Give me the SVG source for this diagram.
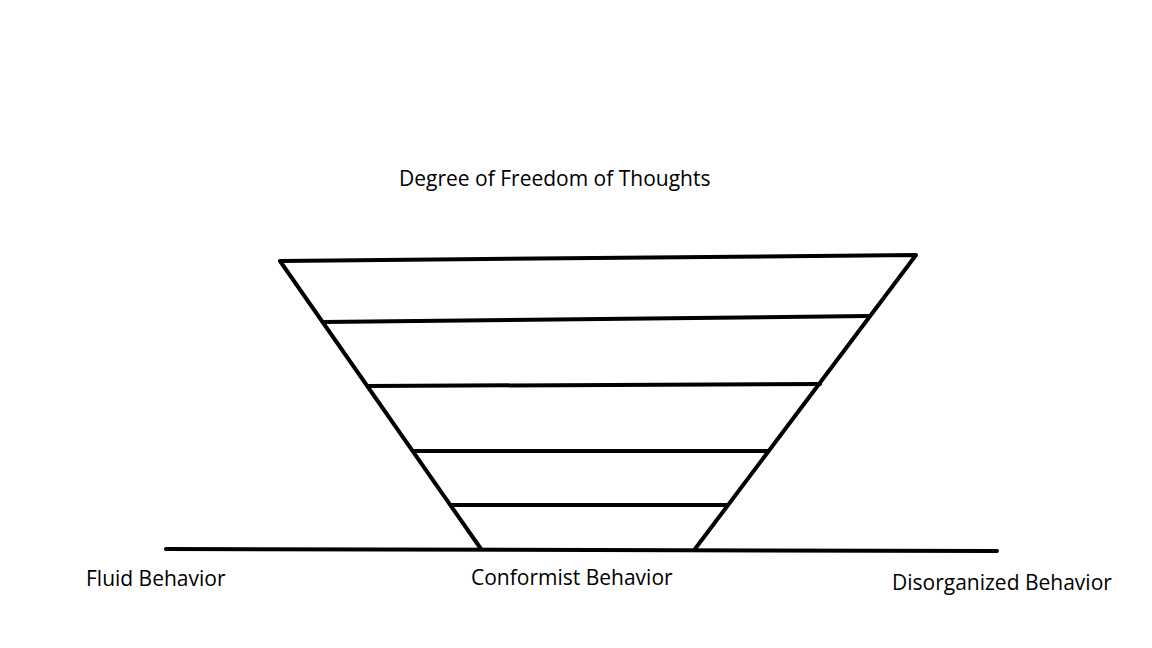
<svg xmlns="http://www.w3.org/2000/svg" width="1152" height="648" viewBox="0 0 1152 648">
<style>
.l{stroke:#000;stroke-width:4;fill:none;stroke-linecap:round;stroke-linejoin:round}
text{font-family:"Open Sans","Liberation Sans",sans-serif;font-size:21px;fill:#000}
</style>
<rect width="1152" height="648" fill="#fff"/>
<g id="funnel">
<path class="l" d="M280,261 L916,255 L695,549 M280,261 L481,549"/>
<path class="l" d="M323,322 L868,316 M368,386 L820,384 M413,451 L768,451 M452,505 L727,505"/>
</g>
<g id="connectors">
<path class="l" d="M166,549 L997,551"/>
</g>
<g id="labels">
<text x="399" y="186">Degree of Freedom of Thoughts</text>
<text x="86" y="586">Fluid Behavior</text>
<text x="471" y="585">Conformist Behavior</text>
<text x="892" y="590">Disorganized Behavior</text>
</g>
</svg>
